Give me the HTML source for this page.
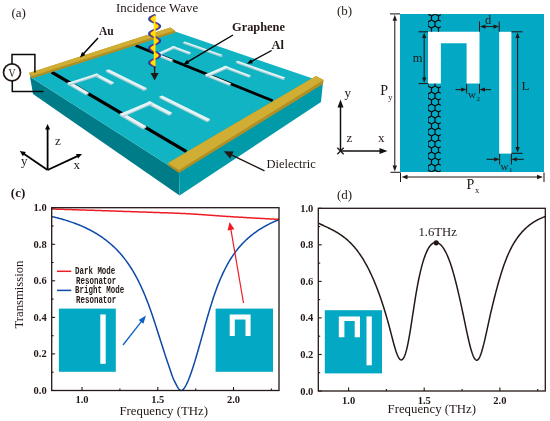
<!DOCTYPE html>
<html><head><meta charset="utf-8"><title>Figure</title>
<style>html,body{margin:0;padding:0;background:#fff}svg{display:block}</style></head>
<body>
<svg width="550" height="421" viewBox="0 0 550 421">
<polygon points="30.0,76.8 179.0,172.0 179.6,195.6 33.0,94.0" fill="#007b88" />
<polygon points="179.0,172.0 323.0,82.0 321.0,102.0 179.6,195.6" fill="#009aa8" />
<polygon points="30.0,76.8 179.0,172.0 323.0,82.0 174.5,31.3" fill="#10b4c2" />
<line x1="51.7" y1="72.2" x2="186.5" y2="151.6" stroke="#000" stroke-width="3.3" />
<line x1="135.6" y1="45.5" x2="272.8" y2="100.8" stroke="#000" stroke-width="2.8" />
<polygon points="67.0,84.2 85.7,95.3 89.2,94.0 70.5,83.0" fill="#a9cdd6" />
<polygon points="67.0,82.9 85.7,94.0 89.2,92.7 70.5,81.7" fill="#e4f3f6" />
<polygon points="93.5,75.8 110.9,85.0 114.2,83.8 96.7,74.7" fill="#a9cdd6" />
<polygon points="93.5,74.5 110.9,83.7 114.2,82.5 96.7,73.4" fill="#e4f3f6" />
<polygon points="67.0,84.2 69.3,85.6 99.1,75.9 96.7,74.7" fill="#a9cdd6" />
<polygon points="67.0,82.9 69.3,84.3 99.1,74.6 96.7,73.4" fill="#e4f3f6" />
<polygon points="105.5,71.7 143.9,90.9 147.2,89.6 108.8,70.6" fill="#a9cdd6" />
<polygon points="105.5,70.4 143.9,89.6 147.2,88.3 108.8,69.3" fill="#e4f3f6" />
<polygon points="119.5,115.4 143.0,129.4 146.7,127.6 123.1,113.8" fill="#a9cdd6" />
<polygon points="119.5,114.1 143.0,128.1 146.7,126.3 123.1,112.5" fill="#e4f3f6" />
<polygon points="146.6,103.9 169.0,115.7 172.3,114.1 149.9,102.5" fill="#a9cdd6" />
<polygon points="146.6,102.6 169.0,114.4 172.3,112.8 149.9,101.2" fill="#e4f3f6" />
<polygon points="119.5,115.4 122.6,117.2 153.1,104.1 149.9,102.5" fill="#a9cdd6" />
<polygon points="119.5,114.1 122.6,115.9 153.1,102.8 149.9,101.2" fill="#e4f3f6" />
<polygon points="158.9,98.1 207.1,122.3 210.4,120.5 162.2,96.7" fill="#a9cdd6" />
<polygon points="158.9,96.8 207.1,121.0 210.4,119.2 162.2,95.4" fill="#e4f3f6" />
<polygon points="155.2,55.6 171.2,62.1 173.7,61.2 157.7,54.7" fill="#a9cdd6" />
<polygon points="155.2,54.3 171.2,60.8 173.7,59.9 157.7,53.4" fill="#e4f3f6" />
<polygon points="171.2,48.0 189.0,54.7 191.3,53.8 173.5,47.2" fill="#a9cdd6" />
<polygon points="171.2,46.7 189.0,53.4 191.3,52.5 173.5,45.9" fill="#e4f3f6" />
<polygon points="155.2,55.6 157.7,56.6 175.9,48.1 173.5,47.2" fill="#a9cdd6" />
<polygon points="155.2,54.3 157.7,55.3 175.9,46.8 173.5,45.9" fill="#e4f3f6" />
<polygon points="182.6,43.6 220.7,57.1 223.0,56.2 184.9,42.8" fill="#a9cdd6" />
<polygon points="182.6,42.3 220.7,55.8 223.0,54.9 184.9,41.5" fill="#e4f3f6" />
<polygon points="204.8,76.0 229.0,85.8 231.4,84.7 207.3,74.9" fill="#a9cdd6" />
<polygon points="204.8,74.7 229.0,84.5 231.4,83.4 207.3,73.6" fill="#e4f3f6" />
<polygon points="223.2,68.1 248.8,77.7 251.1,76.7 225.4,67.1" fill="#a9cdd6" />
<polygon points="223.2,66.8 248.8,76.4 251.1,75.4 225.4,65.8" fill="#e4f3f6" />
<polygon points="204.8,76.0 207.9,77.3 228.5,68.3 225.4,67.1" fill="#a9cdd6" />
<polygon points="204.8,74.7 207.9,76.0 228.5,67.0 225.4,65.8" fill="#e4f3f6" />
<polygon points="235.5,63.1 283.3,80.1 285.4,78.9 237.8,62.1" fill="#a9cdd6" />
<polygon points="235.5,61.8 283.3,78.8 285.4,77.6 237.8,60.8" fill="#e4f3f6" />
<polygon points="29.0,73.0 170.3,27.6 174.8,30.6 175.2,32.8 32.0,78.5 30.5,76.5" fill="#b08f26" />
<polygon points="29.0,73.0 170.3,27.6 174.8,30.6 32.0,76.0" fill="#d0ae34" />
<polygon points="168.0,163.0 316.0,76.0 323.6,80.0 323.0,84.0 179.0,173.0 168.5,165.8" fill="#b08f26" />
<polygon points="168.0,163.0 316.0,76.0 323.6,80.0 179.0,170.0" fill="#d0ae34" />
<circle cx="12" cy="72.4" r="8.5" fill="#fff" stroke="#231815" stroke-width="1.7"/>
<text x="12.0" y="76.6" font-family="'Liberation Serif',serif" font-size="11.5" font-weight="normal" text-anchor="middle" fill="#231815" transform="translate(12 0) scale(0.85 1) translate(-12 0)">V</text>
<polyline points="12,64 12,54.6 34.9,54.6 34.9,72.5" fill="none" stroke="#0a0a0a" stroke-width="1.5"/>
<polyline points="12.3,81 12.3,91.5 43.5,91.5" fill="none" stroke="#0a0a0a" stroke-width="1.5"/>
<text x="11.5" y="16.5" font-family="'Liberation Serif',serif" font-size="13" font-weight="normal" text-anchor="start" fill="#231815" >(a)</text>
<text x="116.0" y="12.3" font-family="'Liberation Serif',serif" font-size="12.9" font-weight="normal" text-anchor="start" fill="#231815" >Incidence Wave</text>
<text x="99.0" y="34.6" font-family="'Liberation Serif',serif" font-size="11.5" font-weight="bold" text-anchor="start" fill="#231815" >Au</text>
<line x1="98.0" y1="38.0" x2="83.0" y2="54.3" stroke="#000" stroke-width="1.5" />
<polygon points="80.0,57.5 82.1,51.9 85.4,55.0" fill="#000" />
<text x="232.0" y="31.0" font-family="'Liberation Serif',serif" font-size="12.4" font-weight="bold" text-anchor="start" fill="#231815" >Graphene</text>
<line x1="233.0" y1="35.0" x2="187.3" y2="62.2" stroke="#000" stroke-width="1.4" />
<polygon points="183.5,64.5 187.1,59.8 189.4,63.6" fill="#000" />
<text x="271.5" y="48.6" font-family="'Liberation Serif',serif" font-size="12.4" font-weight="bold" text-anchor="start" fill="#231815" >Al</text>
<line x1="271.6" y1="50.5" x2="250.9" y2="61.7" stroke="#000" stroke-width="1.4" />
<polygon points="247.0,63.8 250.8,59.2 252.9,63.2" fill="#000" />
<text x="266.5" y="168.4" font-family="'Liberation Serif',serif" font-size="12.5" font-weight="normal" text-anchor="start" fill="#231815" >Dielectric</text>
<line x1="264.5" y1="170.8" x2="230.3" y2="154.4" stroke="#231815" stroke-width="1.4" />
<polygon points="223.8,151.3 233.6,151.6 230.2,158.8" fill="#231815" />
<line x1="47.6" y1="170.0" x2="47.6" y2="128.4" stroke="#000" stroke-width="1.8" />
<polygon points="47.6,124.0 50.1,129.5 45.1,129.5" fill="#000" />
<line x1="47.6" y1="170.0" x2="78.0" y2="155.9" stroke="#000" stroke-width="1.8" />
<polygon points="82.0,154.0 78.1,158.6 76.0,154.1" fill="#000" />
<line x1="47.6" y1="170.0" x2="23.4" y2="153.5" stroke="#000" stroke-width="1.8" />
<polygon points="19.8,151.0 25.8,152.0 22.9,156.2" fill="#000" />
<text x="55.0" y="145.0" font-family="'Liberation Serif',serif" font-size="13" font-weight="normal" text-anchor="start" fill="#231815" >z</text>
<text x="73.5" y="169.0" font-family="'Liberation Serif',serif" font-size="13" font-weight="normal" text-anchor="start" fill="#231815" >x</text>
<text x="21.0" y="165.0" font-family="'Liberation Serif',serif" font-size="13" font-weight="normal" text-anchor="start" fill="#231815" >y</text>
<path d="M154.60,15.30 L153.87,15.62 L153.15,15.94 L152.46,16.26 L151.82,16.59 L151.22,16.91 L150.69,17.23 L150.23,17.55 L149.86,17.87 L149.58,18.19 L149.39,18.51 L149.31,18.84 L149.32,19.16 L149.44,19.48 L149.65,19.80 L149.96,20.12 L150.36,20.44 L150.83,20.76 L151.38,21.08 L152.00,21.41 L152.66,21.73 L153.36,22.05 L154.08,22.37 L154.81,22.69 L155.54,23.01 L156.25,23.33 L156.93,23.66 L157.56,23.98 L158.14,24.30 L158.65,24.62 L159.08,24.94 L159.43,25.26 L159.68,25.58 L159.84,25.91 L159.90,26.23 L159.86,26.55 L159.71,26.87 L159.47,27.19 L159.14,27.51 L158.72,27.83 L158.22,28.16 L157.65,28.48 L157.02,28.80 L156.35,29.12 L155.64,29.44 L154.91,29.76 L154.18,30.08 L153.46,30.41 L152.75,30.73 L152.09,31.05 L151.47,31.37 L150.91,31.69 L150.42,32.01 L150.01,32.33 L149.69,32.65 L149.46,32.98 L149.33,33.30 L149.30,33.62 L149.37,33.94 L149.55,34.26 L149.82,34.58 L150.18,34.90 L150.62,35.23 L151.14,35.55 L151.73,35.87 L152.37,36.19 L153.05,36.51 L153.77,36.83 L154.50,37.15 L155.23,37.48 L155.95,37.80 L156.64,38.12 L157.30,38.44 L157.90,38.76 L158.44,39.08 L158.91,39.40 L159.29,39.73 L159.59,40.05 L159.79,40.37 L159.89,40.69 L159.89,41.01 L159.79,41.33 L159.59,41.65 L159.29,41.97 L158.91,42.30 L158.44,42.62 L157.90,42.94 L157.30,43.26 L156.64,43.58 L155.95,43.90 L155.23,44.22 L154.50,44.55 L153.77,44.87 L153.05,45.19 L152.37,45.51 L151.73,45.83 L151.14,46.15 L150.62,46.47 L150.18,46.80 L149.82,47.12 L149.55,47.44 L149.37,47.76 L149.30,48.08 L149.33,48.40 L149.46,48.72 L149.69,49.05 L150.01,49.37 L150.42,49.69 L150.91,50.01 L151.47,50.33 L152.09,50.65 L152.75,50.97 L153.46,51.29 L154.18,51.62 L154.91,51.94 L155.64,52.26 L156.35,52.58 L157.02,52.90 L157.65,53.22 L158.22,53.54 L158.72,53.87 L159.14,54.19 L159.47,54.51 L159.71,54.83 L159.86,55.15 L159.90,55.47 L159.84,55.79 L159.68,56.12 L159.43,56.44 L159.08,56.76 L158.65,57.08 L158.14,57.40 L157.56,57.72 L156.93,58.04 L156.25,58.37 L155.54,58.69 L154.81,59.01 L154.08,59.33 L153.36,59.65 L152.66,59.97 L152.00,60.29 L151.38,60.62 L150.83,60.94 L150.36,61.26 L149.96,61.58 L149.65,61.90 L149.44,62.22 L149.32,62.54 L149.31,62.86 L149.39,63.19 L149.58,63.51 L149.86,63.83 L150.23,64.15 L150.69,64.47 L151.22,64.79 L151.82,65.11 L152.46,65.44 L153.15,65.76 L153.87,66.08 L154.60,66.40" fill="none" stroke="#1b3fb5" stroke-width="2.4" stroke-linecap="round"/>
<path d="M154.60,15.30 L153.99,15.62 L153.40,15.94 L152.83,16.26 L152.29,16.59 L151.79,16.91 L151.35,17.23 L150.98,17.55 L150.67,17.87 L150.43,18.19 L150.28,18.51 L150.21,18.84 L150.22,19.16 L150.31,19.48 L150.49,19.80 L150.75,20.12 L151.08,20.44 L151.47,20.76 L151.93,21.08 L152.44,21.41 L152.99,21.73 L153.57,22.05 L154.17,22.37 L154.77,22.69 L155.38,23.01 L155.97,23.33 L156.53,23.66 L157.06,23.98 L157.54,24.30 L157.96,24.62 L158.32,24.94 L158.61,25.26 L158.82,25.58 L158.95,25.91 L159.00,26.23 L158.96,26.55 L158.84,26.87 L158.64,27.19 L158.37,27.51 L158.02,27.83 L157.60,28.16 L157.13,28.48 L156.61,28.80 L156.05,29.12 L155.46,29.44 L154.86,29.76 L154.25,30.08 L153.65,30.41 L153.07,30.73 L152.51,31.05 L152.00,31.37 L151.54,31.69 L151.13,32.01 L150.79,32.33 L150.52,32.65 L150.33,32.98 L150.23,33.30 L150.20,33.62 L150.26,33.94 L150.40,34.26 L150.63,34.58 L150.93,34.90 L151.30,35.23 L151.73,35.55 L152.21,35.87 L152.75,36.19 L153.31,36.51 L153.91,36.83 L154.51,37.15 L155.12,37.48 L155.72,37.80 L156.29,38.12 L156.84,38.44 L157.34,38.76 L157.79,39.08 L158.17,39.40 L158.49,39.73 L158.74,40.05 L158.91,40.37 L158.99,40.69 L158.99,41.01 L158.91,41.33 L158.74,41.65 L158.49,41.97 L158.17,42.30 L157.79,42.62 L157.34,42.94 L156.84,43.26 L156.29,43.58 L155.72,43.90 L155.12,44.22 L154.51,44.55 L153.91,44.87 L153.31,45.19 L152.75,45.51 L152.21,45.83 L151.73,46.15 L151.30,46.47 L150.93,46.80 L150.63,47.12 L150.40,47.44 L150.26,47.76 L150.20,48.08 L150.23,48.40 L150.33,48.72 L150.52,49.05 L150.79,49.37 L151.13,49.69 L151.54,50.01 L152.00,50.33 L152.51,50.65 L153.07,50.97 L153.65,51.29 L154.25,51.62 L154.86,51.94 L155.46,52.26 L156.05,52.58 L156.61,52.90 L157.13,53.22 L157.60,53.54 L158.02,53.87 L158.37,54.19 L158.64,54.51 L158.84,54.83 L158.96,55.15 L159.00,55.47 L158.95,55.79 L158.82,56.12 L158.61,56.44 L158.32,56.76 L157.96,57.08 L157.54,57.40 L157.06,57.72 L156.53,58.04 L155.97,58.37 L155.38,58.69 L154.77,59.01 L154.17,59.33 L153.57,59.65 L152.99,59.97 L152.44,60.29 L151.93,60.62 L151.47,60.94 L151.08,61.26 L150.75,61.58 L150.49,61.90 L150.31,62.22 L150.22,62.54 L150.21,62.86 L150.28,63.19 L150.43,63.51 L150.67,63.83 L150.98,64.15 L151.35,64.47 L151.79,64.79 L152.29,65.11 L152.83,65.44 L153.40,65.76 L153.99,66.08 L154.60,66.40 L154.6,66.4 L154.6,15.3 Z" fill="#ffe600" stroke="#e8281e" stroke-width="0.9"/>
<line x1="154.6" y1="15.8" x2="154.6" y2="66.4" stroke="#ffe600" stroke-width="1.8" />
<line x1="154.6" y1="66.4" x2="154.6" y2="74.5" stroke="#231815" stroke-width="1.4" />
<polygon points="154.6,80.5 150.6,73.0 158.6,73.0" fill="#231815" />
<rect x="400" y="14" width="144" height="158" fill="#03a8c4"/>
<clipPath id="gc"><rect x="428" y="14" width="12.8" height="158"/></clipPath>
<path d="M428.0,-10.0 L431.5,-8.0 L431.5,-4.0 L428.0,-2.0 L424.5,-4.0 L424.5,-8.0ZM435.0,-10.0 L438.5,-8.0 L438.5,-4.0 L435.0,-2.0 L431.5,-4.0 L431.5,-8.0ZM442.0,-10.0 L445.5,-8.0 L445.5,-4.0 L442.0,-2.0 L438.5,-4.0 L438.5,-8.0ZM449.0,-10.0 L452.5,-8.0 L452.5,-4.0 L449.0,-2.0 L445.5,-4.0 L445.5,-8.0ZM424.5,-4.0 L428.0,-2.0 L428.0,2.0 L424.5,4.0 L421.0,2.0 L421.0,-2.0ZM431.5,-4.0 L435.0,-2.0 L435.0,2.0 L431.5,4.0 L428.0,2.0 L428.0,-2.0ZM438.5,-4.0 L442.0,-2.0 L442.0,2.0 L438.5,4.0 L435.0,2.0 L435.0,-2.0ZM445.5,-4.0 L449.0,-2.0 L449.0,2.0 L445.5,4.0 L442.0,2.0 L442.0,-2.0ZM428.0,2.0 L431.5,4.0 L431.5,8.0 L428.0,10.0 L424.5,8.0 L424.5,4.0ZM435.0,2.0 L438.5,4.0 L438.5,8.0 L435.0,10.0 L431.5,8.0 L431.5,4.0ZM442.0,2.0 L445.5,4.0 L445.5,8.0 L442.0,10.0 L438.5,8.0 L438.5,4.0ZM449.0,2.0 L452.5,4.0 L452.5,8.0 L449.0,10.0 L445.5,8.0 L445.5,4.0ZM424.5,8.0 L428.0,10.0 L428.0,14.0 L424.5,16.0 L421.0,14.0 L421.0,10.0ZM431.5,8.0 L435.0,10.0 L435.0,14.0 L431.5,16.0 L428.0,14.0 L428.0,10.0ZM438.5,8.0 L442.0,10.0 L442.0,14.0 L438.5,16.0 L435.0,14.0 L435.0,10.0ZM445.5,8.0 L449.0,10.0 L449.0,14.0 L445.5,16.0 L442.0,14.0 L442.0,10.0ZM428.0,14.0 L431.5,16.0 L431.5,20.0 L428.0,22.0 L424.5,20.0 L424.5,16.0ZM435.0,14.0 L438.5,16.0 L438.5,20.0 L435.0,22.0 L431.5,20.0 L431.5,16.0ZM442.0,14.0 L445.5,16.0 L445.5,20.0 L442.0,22.0 L438.5,20.0 L438.5,16.0ZM449.0,14.0 L452.5,16.0 L452.5,20.0 L449.0,22.0 L445.5,20.0 L445.5,16.0ZM424.5,20.0 L428.0,22.0 L428.0,26.0 L424.5,28.0 L421.0,26.0 L421.0,22.0ZM431.5,20.0 L435.0,22.0 L435.0,26.0 L431.5,28.0 L428.0,26.0 L428.0,22.0ZM438.5,20.0 L442.0,22.0 L442.0,26.0 L438.5,28.0 L435.0,26.0 L435.0,22.0ZM445.5,20.0 L449.0,22.0 L449.0,26.0 L445.5,28.0 L442.0,26.0 L442.0,22.0ZM428.0,26.0 L431.5,28.0 L431.5,32.0 L428.0,34.0 L424.5,32.0 L424.5,28.0ZM435.0,26.0 L438.5,28.0 L438.5,32.0 L435.0,34.0 L431.5,32.0 L431.5,28.0ZM442.0,26.0 L445.5,28.0 L445.5,32.0 L442.0,34.0 L438.5,32.0 L438.5,28.0ZM449.0,26.0 L452.5,28.0 L452.5,32.0 L449.0,34.0 L445.5,32.0 L445.5,28.0ZM424.5,32.0 L428.0,34.0 L428.0,38.0 L424.5,40.0 L421.0,38.0 L421.0,34.0ZM431.5,32.0 L435.0,34.0 L435.0,38.0 L431.5,40.0 L428.0,38.0 L428.0,34.0ZM438.5,32.0 L442.0,34.0 L442.0,38.0 L438.5,40.0 L435.0,38.0 L435.0,34.0ZM445.5,32.0 L449.0,34.0 L449.0,38.0 L445.5,40.0 L442.0,38.0 L442.0,34.0ZM428.0,38.0 L431.5,40.0 L431.5,44.0 L428.0,46.0 L424.5,44.0 L424.5,40.0ZM435.0,38.0 L438.5,40.0 L438.5,44.0 L435.0,46.0 L431.5,44.0 L431.5,40.0ZM442.0,38.0 L445.5,40.0 L445.5,44.0 L442.0,46.0 L438.5,44.0 L438.5,40.0ZM449.0,38.0 L452.5,40.0 L452.5,44.0 L449.0,46.0 L445.5,44.0 L445.5,40.0ZM424.5,44.0 L428.0,46.0 L428.0,50.0 L424.5,52.0 L421.0,50.0 L421.0,46.0ZM431.5,44.0 L435.0,46.0 L435.0,50.0 L431.5,52.0 L428.0,50.0 L428.0,46.0ZM438.5,44.0 L442.0,46.0 L442.0,50.0 L438.5,52.0 L435.0,50.0 L435.0,46.0ZM445.5,44.0 L449.0,46.0 L449.0,50.0 L445.5,52.0 L442.0,50.0 L442.0,46.0ZM428.0,50.0 L431.5,52.0 L431.5,56.0 L428.0,58.0 L424.5,56.0 L424.5,52.0ZM435.0,50.0 L438.5,52.0 L438.5,56.0 L435.0,58.0 L431.5,56.0 L431.5,52.0ZM442.0,50.0 L445.5,52.0 L445.5,56.0 L442.0,58.0 L438.5,56.0 L438.5,52.0ZM449.0,50.0 L452.5,52.0 L452.5,56.0 L449.0,58.0 L445.5,56.0 L445.5,52.0ZM424.5,56.0 L428.0,58.0 L428.0,62.0 L424.5,64.0 L421.0,62.0 L421.0,58.0ZM431.5,56.0 L435.0,58.0 L435.0,62.0 L431.5,64.0 L428.0,62.0 L428.0,58.0ZM438.5,56.0 L442.0,58.0 L442.0,62.0 L438.5,64.0 L435.0,62.0 L435.0,58.0ZM445.5,56.0 L449.0,58.0 L449.0,62.0 L445.5,64.0 L442.0,62.0 L442.0,58.0ZM428.0,62.0 L431.5,64.0 L431.5,68.0 L428.0,70.0 L424.5,68.0 L424.5,64.0ZM435.0,62.0 L438.5,64.0 L438.5,68.0 L435.0,70.0 L431.5,68.0 L431.5,64.0ZM442.0,62.0 L445.5,64.0 L445.5,68.0 L442.0,70.0 L438.5,68.0 L438.5,64.0ZM449.0,62.0 L452.5,64.0 L452.5,68.0 L449.0,70.0 L445.5,68.0 L445.5,64.0ZM424.5,68.0 L428.0,70.0 L428.0,74.0 L424.5,76.0 L421.0,74.0 L421.0,70.0ZM431.5,68.0 L435.0,70.0 L435.0,74.0 L431.5,76.0 L428.0,74.0 L428.0,70.0ZM438.5,68.0 L442.0,70.0 L442.0,74.0 L438.5,76.0 L435.0,74.0 L435.0,70.0ZM445.5,68.0 L449.0,70.0 L449.0,74.0 L445.5,76.0 L442.0,74.0 L442.0,70.0ZM428.0,74.0 L431.5,76.0 L431.5,80.0 L428.0,82.0 L424.5,80.0 L424.5,76.0ZM435.0,74.0 L438.5,76.0 L438.5,80.0 L435.0,82.0 L431.5,80.0 L431.5,76.0ZM442.0,74.0 L445.5,76.0 L445.5,80.0 L442.0,82.0 L438.5,80.0 L438.5,76.0ZM449.0,74.0 L452.5,76.0 L452.5,80.0 L449.0,82.0 L445.5,80.0 L445.5,76.0ZM424.5,80.0 L428.0,82.0 L428.0,86.0 L424.5,88.0 L421.0,86.0 L421.0,82.0ZM431.5,80.0 L435.0,82.0 L435.0,86.0 L431.5,88.0 L428.0,86.0 L428.0,82.0ZM438.5,80.0 L442.0,82.0 L442.0,86.0 L438.5,88.0 L435.0,86.0 L435.0,82.0ZM445.5,80.0 L449.0,82.0 L449.0,86.0 L445.5,88.0 L442.0,86.0 L442.0,82.0ZM428.0,86.0 L431.5,88.0 L431.5,92.0 L428.0,94.0 L424.5,92.0 L424.5,88.0ZM435.0,86.0 L438.5,88.0 L438.5,92.0 L435.0,94.0 L431.5,92.0 L431.5,88.0ZM442.0,86.0 L445.5,88.0 L445.5,92.0 L442.0,94.0 L438.5,92.0 L438.5,88.0ZM449.0,86.0 L452.5,88.0 L452.5,92.0 L449.0,94.0 L445.5,92.0 L445.5,88.0ZM424.5,92.0 L428.0,94.0 L428.0,98.0 L424.5,100.0 L421.0,98.0 L421.0,94.0ZM431.5,92.0 L435.0,94.0 L435.0,98.0 L431.5,100.0 L428.0,98.0 L428.0,94.0ZM438.5,92.0 L442.0,94.0 L442.0,98.0 L438.5,100.0 L435.0,98.0 L435.0,94.0ZM445.5,92.0 L449.0,94.0 L449.0,98.0 L445.5,100.0 L442.0,98.0 L442.0,94.0ZM428.0,98.0 L431.5,100.0 L431.5,104.0 L428.0,106.0 L424.5,104.0 L424.5,100.0ZM435.0,98.0 L438.5,100.0 L438.5,104.0 L435.0,106.0 L431.5,104.0 L431.5,100.0ZM442.0,98.0 L445.5,100.0 L445.5,104.0 L442.0,106.0 L438.5,104.0 L438.5,100.0ZM449.0,98.0 L452.5,100.0 L452.5,104.0 L449.0,106.0 L445.5,104.0 L445.5,100.0ZM424.5,104.0 L428.0,106.0 L428.0,110.0 L424.5,112.0 L421.0,110.0 L421.0,106.0ZM431.5,104.0 L435.0,106.0 L435.0,110.0 L431.5,112.0 L428.0,110.0 L428.0,106.0ZM438.5,104.0 L442.0,106.0 L442.0,110.0 L438.5,112.0 L435.0,110.0 L435.0,106.0ZM445.5,104.0 L449.0,106.0 L449.0,110.0 L445.5,112.0 L442.0,110.0 L442.0,106.0ZM428.0,110.0 L431.5,112.0 L431.5,116.0 L428.0,118.0 L424.5,116.0 L424.5,112.0ZM435.0,110.0 L438.5,112.0 L438.5,116.0 L435.0,118.0 L431.5,116.0 L431.5,112.0ZM442.0,110.0 L445.5,112.0 L445.5,116.0 L442.0,118.0 L438.5,116.0 L438.5,112.0ZM449.0,110.0 L452.5,112.0 L452.5,116.0 L449.0,118.0 L445.5,116.0 L445.5,112.0ZM424.5,116.0 L428.0,118.0 L428.0,122.0 L424.5,124.0 L421.0,122.0 L421.0,118.0ZM431.5,116.0 L435.0,118.0 L435.0,122.0 L431.5,124.0 L428.0,122.0 L428.0,118.0ZM438.5,116.0 L442.0,118.0 L442.0,122.0 L438.5,124.0 L435.0,122.0 L435.0,118.0ZM445.5,116.0 L449.0,118.0 L449.0,122.0 L445.5,124.0 L442.0,122.0 L442.0,118.0ZM428.0,122.0 L431.5,124.0 L431.5,128.0 L428.0,130.0 L424.5,128.0 L424.5,124.0ZM435.0,122.0 L438.5,124.0 L438.5,128.0 L435.0,130.0 L431.5,128.0 L431.5,124.0ZM442.0,122.0 L445.5,124.0 L445.5,128.0 L442.0,130.0 L438.5,128.0 L438.5,124.0ZM449.0,122.0 L452.5,124.0 L452.5,128.0 L449.0,130.0 L445.5,128.0 L445.5,124.0ZM424.5,128.0 L428.0,130.0 L428.0,134.0 L424.5,136.0 L421.0,134.0 L421.0,130.0ZM431.5,128.0 L435.0,130.0 L435.0,134.0 L431.5,136.0 L428.0,134.0 L428.0,130.0ZM438.5,128.0 L442.0,130.0 L442.0,134.0 L438.5,136.0 L435.0,134.0 L435.0,130.0ZM445.5,128.0 L449.0,130.0 L449.0,134.0 L445.5,136.0 L442.0,134.0 L442.0,130.0ZM428.0,134.0 L431.5,136.0 L431.5,140.0 L428.0,142.0 L424.5,140.0 L424.5,136.0ZM435.0,134.0 L438.5,136.0 L438.5,140.0 L435.0,142.0 L431.5,140.0 L431.5,136.0ZM442.0,134.0 L445.5,136.0 L445.5,140.0 L442.0,142.0 L438.5,140.0 L438.5,136.0ZM449.0,134.0 L452.5,136.0 L452.5,140.0 L449.0,142.0 L445.5,140.0 L445.5,136.0ZM424.5,140.0 L428.0,142.0 L428.0,146.0 L424.5,148.0 L421.0,146.0 L421.0,142.0ZM431.5,140.0 L435.0,142.0 L435.0,146.0 L431.5,148.0 L428.0,146.0 L428.0,142.0ZM438.5,140.0 L442.0,142.0 L442.0,146.0 L438.5,148.0 L435.0,146.0 L435.0,142.0ZM445.5,140.0 L449.0,142.0 L449.0,146.0 L445.5,148.0 L442.0,146.0 L442.0,142.0ZM428.0,146.0 L431.5,148.0 L431.5,152.0 L428.0,154.0 L424.5,152.0 L424.5,148.0ZM435.0,146.0 L438.5,148.0 L438.5,152.0 L435.0,154.0 L431.5,152.0 L431.5,148.0ZM442.0,146.0 L445.5,148.0 L445.5,152.0 L442.0,154.0 L438.5,152.0 L438.5,148.0ZM449.0,146.0 L452.5,148.0 L452.5,152.0 L449.0,154.0 L445.5,152.0 L445.5,148.0ZM424.5,152.0 L428.0,154.0 L428.0,158.0 L424.5,160.0 L421.0,158.0 L421.0,154.0ZM431.5,152.0 L435.0,154.0 L435.0,158.0 L431.5,160.0 L428.0,158.0 L428.0,154.0ZM438.5,152.0 L442.0,154.0 L442.0,158.0 L438.5,160.0 L435.0,158.0 L435.0,154.0ZM445.5,152.0 L449.0,154.0 L449.0,158.0 L445.5,160.0 L442.0,158.0 L442.0,154.0ZM428.0,158.0 L431.5,160.0 L431.5,164.0 L428.0,166.0 L424.5,164.0 L424.5,160.0ZM435.0,158.0 L438.5,160.0 L438.5,164.0 L435.0,166.0 L431.5,164.0 L431.5,160.0ZM442.0,158.0 L445.5,160.0 L445.5,164.0 L442.0,166.0 L438.5,164.0 L438.5,160.0ZM449.0,158.0 L452.5,160.0 L452.5,164.0 L449.0,166.0 L445.5,164.0 L445.5,160.0ZM424.5,164.0 L428.0,166.0 L428.0,170.0 L424.5,172.0 L421.0,170.0 L421.0,166.0ZM431.5,164.0 L435.0,166.0 L435.0,170.0 L431.5,172.0 L428.0,170.0 L428.0,166.0ZM438.5,164.0 L442.0,166.0 L442.0,170.0 L438.5,172.0 L435.0,170.0 L435.0,166.0ZM445.5,164.0 L449.0,166.0 L449.0,170.0 L445.5,172.0 L442.0,170.0 L442.0,166.0ZM428.0,170.0 L431.5,172.0 L431.5,176.0 L428.0,178.0 L424.5,176.0 L424.5,172.0ZM435.0,170.0 L438.5,172.0 L438.5,176.0 L435.0,178.0 L431.5,176.0 L431.5,172.0ZM442.0,170.0 L445.5,172.0 L445.5,176.0 L442.0,178.0 L438.5,176.0 L438.5,172.0ZM449.0,170.0 L452.5,172.0 L452.5,176.0 L449.0,178.0 L445.5,176.0 L445.5,172.0ZM424.5,176.0 L428.0,178.0 L428.0,182.0 L424.5,184.0 L421.0,182.0 L421.0,178.0ZM431.5,176.0 L435.0,178.0 L435.0,182.0 L431.5,184.0 L428.0,182.0 L428.0,178.0ZM438.5,176.0 L442.0,178.0 L442.0,182.0 L438.5,184.0 L435.0,182.0 L435.0,178.0ZM445.5,176.0 L449.0,178.0 L449.0,182.0 L445.5,184.0 L442.0,182.0 L442.0,178.0ZM428.0,182.0 L431.5,184.0 L431.5,188.0 L428.0,190.0 L424.5,188.0 L424.5,184.0ZM435.0,182.0 L438.5,184.0 L438.5,188.0 L435.0,190.0 L431.5,188.0 L431.5,184.0ZM442.0,182.0 L445.5,184.0 L445.5,188.0 L442.0,190.0 L438.5,188.0 L438.5,184.0ZM449.0,182.0 L452.5,184.0 L452.5,188.0 L449.0,190.0 L445.5,188.0 L445.5,184.0ZM424.5,188.0 L428.0,190.0 L428.0,194.0 L424.5,196.0 L421.0,194.0 L421.0,190.0ZM431.5,188.0 L435.0,190.0 L435.0,194.0 L431.5,196.0 L428.0,194.0 L428.0,190.0ZM438.5,188.0 L442.0,190.0 L442.0,194.0 L438.5,196.0 L435.0,194.0 L435.0,190.0ZM445.5,188.0 L449.0,190.0 L449.0,194.0 L445.5,196.0 L442.0,194.0 L442.0,190.0Z" fill="none" stroke="#0a0a0a" stroke-width="1.15" clip-path="url(#gc)"/>
<path d="M428,31.8 H479.5 V83.6 H466.6 V43.3 H440.9 V83.6 H428 Z" fill="#fff"/>
<rect x="499.2" y="31.8" width="12.2" height="121.8" fill="#fff"/>
<line x1="390.0" y1="13.9" x2="400.0" y2="13.9" stroke="#231815" stroke-width="1.05" />
<line x1="390.5" y1="172.3" x2="400.0" y2="172.3" stroke="#231815" stroke-width="1.05" />
<line x1="394.8" y1="19.6" x2="394.8" y2="166.7" stroke="#231815" stroke-width="1.05" />
<polygon points="394.8,171.5 392.6,165.5 397.0,165.5" fill="#231815" />
<polygon points="394.8,14.8 392.6,20.8 397.0,20.8" fill="#231815" />
<text x="380.3" y="95.3" font-family="'Liberation Serif',serif" font-size="14" font-weight="normal" text-anchor="start" fill="#231815" >P</text>
<text x="388.3" y="99.8" font-family="'Liberation Serif',serif" font-size="8.5" font-weight="normal" text-anchor="start" fill="#231815" >y</text>
<line x1="400.5" y1="172.5" x2="400.5" y2="182.0" stroke="#231815" stroke-width="1.05" />
<line x1="544.0" y1="172.5" x2="544.0" y2="182.0" stroke="#231815" stroke-width="1.05" />
<line x1="406.3" y1="177.0" x2="538.2" y2="177.0" stroke="#231815" stroke-width="1.05" />
<polygon points="543.0,177.0 537.0,179.3 537.0,174.7" fill="#231815" />
<polygon points="401.5,177.0 407.5,179.3 407.5,174.7" fill="#231815" />
<text x="466.5" y="188.5" font-family="'Liberation Serif',serif" font-size="14" font-weight="normal" text-anchor="start" fill="#231815" >P</text>
<text x="475.0" y="192.5" font-family="'Liberation Serif',serif" font-size="8.5" font-weight="normal" text-anchor="start" fill="#231815" >x</text>
<line x1="418.6" y1="31.8" x2="428.0" y2="31.8" stroke="#231815" stroke-width="1.05" />
<line x1="418.6" y1="83.6" x2="428.0" y2="83.6" stroke="#231815" stroke-width="1.05" />
<line x1="424.2" y1="36.9" x2="424.2" y2="78.6" stroke="#231815" stroke-width="1.05" />
<polygon points="424.2,83.0 422.1,77.5 426.3,77.5" fill="#231815" />
<polygon points="424.2,32.5 422.1,38.0 426.3,38.0" fill="#231815" />
<text x="417.5" y="62.0" font-family="'Liberation Serif',serif" font-size="12.5" font-weight="normal" text-anchor="middle" fill="#231815" >m</text>
<line x1="479.5" y1="21.5" x2="479.5" y2="31.5" stroke="#231815" stroke-width="1.05" />
<line x1="499.2" y1="21.5" x2="499.2" y2="31.5" stroke="#231815" stroke-width="1.05" />
<line x1="484.4" y1="26.6" x2="494.6" y2="26.6" stroke="#231815" stroke-width="1.05" />
<polygon points="499.0,26.6 493.5,28.7 493.5,24.5" fill="#231815" />
<polygon points="480.0,26.6 485.5,28.7 485.5,24.5" fill="#231815" />
<text x="488.0" y="23.5" font-family="'Liberation Serif',serif" font-size="12.5" font-weight="normal" text-anchor="middle" fill="#231815" >d</text>
<line x1="466.6" y1="84.0" x2="466.6" y2="93.5" stroke="#231815" stroke-width="1.05" />
<line x1="479.5" y1="84.0" x2="479.5" y2="93.5" stroke="#231815" stroke-width="1.05" />
<line x1="455.5" y1="89.6" x2="462.2" y2="89.6" stroke="#231815" stroke-width="1.05" />
<polygon points="466.6,89.6 461.1,91.7 461.1,87.5" fill="#231815" />
<line x1="491.0" y1="89.6" x2="483.9" y2="89.6" stroke="#231815" stroke-width="1.05" />
<polygon points="479.5,89.6 485.0,87.5 485.0,91.7" fill="#231815" />
<text x="472.0" y="97.5" font-family="'Liberation Serif',serif" font-size="11" font-weight="normal" text-anchor="middle" fill="#231815" >w</text>
<text x="476.5" y="100.5" font-family="'Liberation Serif',serif" font-size="7" font-weight="normal" text-anchor="start" fill="#231815" >2</text>
<line x1="511.4" y1="31.8" x2="522.5" y2="31.8" stroke="#231815" stroke-width="1.05" />
<line x1="511.4" y1="153.3" x2="522.5" y2="153.3" stroke="#231815" stroke-width="1.05" />
<line x1="517.6" y1="36.9" x2="517.6" y2="148.2" stroke="#231815" stroke-width="1.05" />
<polygon points="517.6,152.6 515.5,147.1 519.7,147.1" fill="#231815" />
<polygon points="517.6,32.5 515.5,38.0 519.7,38.0" fill="#231815" />
<text x="521.5" y="89.5" font-family="'Liberation Serif',serif" font-size="13" font-weight="normal" text-anchor="start" fill="#231815" >L</text>
<line x1="499.6" y1="154.0" x2="499.6" y2="164.5" stroke="#231815" stroke-width="1.05" />
<line x1="511.4" y1="154.0" x2="511.4" y2="164.5" stroke="#231815" stroke-width="1.05" />
<line x1="486.5" y1="159.3" x2="495.2" y2="159.3" stroke="#231815" stroke-width="1.05" />
<polygon points="499.6,159.3 494.1,161.4 494.1,157.2" fill="#231815" />
<line x1="523.7" y1="159.3" x2="515.8" y2="159.3" stroke="#231815" stroke-width="1.05" />
<polygon points="511.4,159.3 516.9,157.2 516.9,161.4" fill="#231815" />
<text x="504.5" y="169.5" font-family="'Liberation Serif',serif" font-size="11" font-weight="normal" text-anchor="middle" fill="#231815" >w</text>
<text x="509.0" y="172.0" font-family="'Liberation Serif',serif" font-size="7" font-weight="normal" text-anchor="start" fill="#231815" >1</text>
<line x1="340.5" y1="151.0" x2="340.5" y2="105.9" stroke="#111" stroke-width="1.5" />
<polygon points="340.5,99.5 343.5,107.5 337.5,107.5" fill="#111" />
<line x1="340.5" y1="151.0" x2="381.1" y2="151.0" stroke="#111" stroke-width="1.5" />
<polygon points="387.5,151.0 379.5,154.0 379.5,148.0" fill="#111" />
<line x1="337.3" y1="147.8" x2="343.7" y2="154.2" stroke="#231815" stroke-width="1.3" />
<line x1="337.3" y1="154.2" x2="343.7" y2="147.8" stroke="#231815" stroke-width="1.3" />
<text x="344.5" y="97.0" font-family="'Liberation Serif',serif" font-size="13" font-weight="normal" text-anchor="start" fill="#231815" >y</text>
<text x="346.5" y="142.0" font-family="'Liberation Serif',serif" font-size="13" font-weight="normal" text-anchor="start" fill="#231815" >z</text>
<text x="378.0" y="141.5" font-family="'Liberation Serif',serif" font-size="13" font-weight="normal" text-anchor="start" fill="#231815" >x</text>
<text x="337.0" y="15.0" font-family="'Liberation Serif',serif" font-size="13" font-weight="normal" text-anchor="start" fill="#231815" >(b)</text>
<rect x="58.9" y="308.6" width="56.9" height="63.2" fill="#03a8c4"/>
<rect x="100.3" y="314.4" width="5.4" height="49.4" fill="#fff"/>
<rect x="215.6" y="308.6" width="57.4" height="63.2" fill="#03a8c4"/>
<path d="M229.7,314.4 H250.6 V335.9 H245.5 V319.5 H234.8 V335.9 H229.7 Z" fill="#fff"/>
<clipPath id="cc"><rect x="51.7" y="207.7" width="227.3" height="183.8"/></clipPath>
<path d="M51.70,216.54 L52.46,216.71 L53.22,216.89 L53.98,217.07 L54.74,217.25 L55.50,217.43 L56.26,217.62 L57.02,217.81 L57.78,218.01 L58.54,218.20 L59.30,218.40 L60.06,218.61 L60.82,218.81 L61.58,219.03 L62.34,219.24 L63.10,219.46 L63.86,219.68 L64.62,219.90 L65.38,220.13 L66.14,220.37 L66.90,220.60 L67.66,220.84 L68.42,221.09 L69.18,221.34 L69.94,221.59 L70.71,221.85 L71.47,222.11 L72.23,222.37 L72.99,222.64 L73.75,222.92 L74.51,223.20 L75.27,223.48 L76.03,223.77 L76.79,224.06 L77.55,224.36 L78.31,224.66 L79.07,224.97 L79.83,225.29 L80.59,225.60 L81.35,225.93 L82.11,226.26 L82.87,226.59 L83.63,226.93 L84.39,227.28 L85.15,227.63 L85.91,227.99 L86.67,228.36 L87.43,228.73 L88.19,229.10 L88.95,229.49 L89.71,229.88 L90.47,230.28 L91.23,230.68 L91.99,231.09 L92.75,231.51 L93.51,231.94 L94.27,232.37 L95.03,232.81 L95.79,233.26 L96.55,233.72 L97.31,234.18 L98.07,234.66 L98.83,235.14 L99.59,235.63 L100.35,236.14 L101.11,236.65 L101.87,237.17 L102.63,237.70 L103.39,238.24 L104.15,238.79 L104.91,239.35 L105.67,239.92 L106.43,240.51 L107.19,241.10 L107.95,241.71 L108.72,242.33 L109.48,242.96 L110.24,243.61 L111.00,244.27 L111.76,244.94 L112.52,245.63 L113.28,246.33 L114.04,247.04 L114.80,247.77 L115.56,248.52 L116.32,249.28 L117.08,250.06 L117.84,250.86 L118.60,251.67 L119.36,252.50 L120.12,253.35 L120.88,254.22 L121.64,255.11 L122.40,256.02 L123.16,256.95 L123.92,257.90 L124.68,258.87 L125.44,259.87 L126.20,260.89 L126.96,261.93 L127.72,263.00 L128.48,264.09 L129.24,265.21 L130.00,266.36 L130.76,267.53 L131.52,268.73 L132.28,269.96 L133.04,271.22 L133.80,272.51 L134.56,273.83 L135.32,275.18 L136.08,276.57 L136.84,277.99 L137.60,279.45 L138.36,280.93 L139.12,282.46 L139.88,284.02 L140.64,285.62 L141.40,287.26 L142.16,288.94 L142.92,290.65 L143.68,292.41 L144.44,294.21 L145.20,296.05 L145.96,297.93 L146.73,299.85 L147.49,301.82 L148.25,303.82 L149.01,305.87 L149.77,307.96 L150.53,310.10 L151.29,312.27 L152.05,314.48 L152.81,316.73 L153.57,319.00 L154.33,321.30 L155.09,323.62 L155.85,325.96 L156.61,328.31 L157.37,330.68 L158.13,333.05 L158.89,335.44 L159.65,337.82 L160.41,340.20 L161.17,342.59 L161.93,344.96 L162.69,347.33 L163.45,349.69 L164.21,352.03 L164.97,354.36 L165.73,356.67 L166.49,358.97 L167.25,361.24 L168.01,363.50 L168.77,365.76 L169.53,368.03 L170.29,370.31 L171.05,372.60 L171.81,374.80 L172.57,376.85 L173.33,378.71 L174.09,380.36 L174.85,381.90 L175.61,383.40 L176.37,384.88 L177.13,386.32 L177.89,387.64 L178.65,388.76 L179.41,389.63 L180.17,390.21 L180.93,390.48 L181.69,390.43 L182.45,390.08 L183.21,389.45 L183.97,388.56 L184.74,387.46 L185.50,386.17 L186.26,384.73 L187.02,383.15 L187.78,381.47 L188.54,379.68 L189.30,377.78 L190.06,375.79 L190.82,373.71 L191.58,371.54 L192.34,369.29 L193.10,366.96 L193.86,364.57 L194.62,362.11 L195.38,359.61 L196.14,357.06 L196.90,354.47 L197.66,351.85 L198.42,349.20 L199.18,346.53 L199.94,343.83 L200.70,341.12 L201.46,338.40 L202.22,335.68 L202.98,332.95 L203.74,330.23 L204.50,327.51 L205.26,324.81 L206.02,322.12 L206.78,319.45 L207.54,316.81 L208.30,314.19 L209.06,311.61 L209.82,309.07 L210.58,306.57 L211.34,304.11 L212.10,301.70 L212.86,299.34 L213.62,297.04 L214.38,294.79 L215.14,292.60 L215.90,290.46 L216.66,288.38 L217.42,286.36 L218.18,284.39 L218.94,282.47 L219.70,280.61 L220.46,278.80 L221.22,277.05 L221.98,275.34 L222.75,273.68 L223.51,272.06 L224.27,270.50 L225.03,268.98 L225.79,267.50 L226.55,266.06 L227.31,264.67 L228.07,263.31 L228.83,261.99 L229.59,260.71 L230.35,259.47 L231.11,258.26 L231.87,257.08 L232.63,255.94 L233.39,254.83 L234.15,253.74 L234.91,252.69 L235.67,251.67 L236.43,250.67 L237.19,249.70 L237.95,248.75 L238.71,247.83 L239.47,246.93 L240.23,246.06 L240.99,245.20 L241.75,244.37 L242.51,243.56 L243.27,242.77 L244.03,242.00 L244.79,241.24 L245.55,240.51 L246.31,239.79 L247.07,239.09 L247.83,238.40 L248.59,237.73 L249.35,237.07 L250.11,236.43 L250.87,235.80 L251.63,235.19 L252.39,234.59 L253.15,234.00 L253.91,233.42 L254.67,232.86 L255.43,232.31 L256.19,231.77 L256.95,231.24 L257.71,230.72 L258.47,230.21 L259.23,229.71 L259.99,229.23 L260.76,228.75 L261.52,228.28 L262.28,227.82 L263.04,227.36 L263.80,226.92 L264.56,226.49 L265.32,226.06 L266.08,225.64 L266.84,225.23 L267.60,224.83 L268.36,224.43 L269.12,224.05 L269.88,223.67 L270.64,223.29 L271.40,222.93 L272.16,222.57 L272.92,222.22 L273.68,221.87 L274.44,221.53 L275.20,221.20 L275.96,220.87 L276.72,220.55 L277.48,220.24 L278.24,219.93 L279.00,219.63" fill="none" stroke="#0b49a8" stroke-width="1.5" clip-path="url(#cc)"/>
<path d="M51.70,208.98 L52.84,209.02 L53.98,209.05 L55.13,209.09 L56.27,209.13 L57.41,209.17 L58.55,209.20 L59.70,209.24 L60.84,209.28 L61.98,209.31 L63.12,209.35 L64.26,209.39 L65.41,209.43 L66.55,209.46 L67.69,209.50 L68.83,209.54 L69.98,209.58 L71.12,209.61 L72.26,209.65 L73.40,209.69 L74.54,209.73 L75.69,209.77 L76.83,209.80 L77.97,209.84 L79.11,209.88 L80.26,209.92 L81.40,209.95 L82.54,209.99 L83.68,210.03 L84.82,210.07 L85.97,210.11 L87.11,210.14 L88.25,210.18 L89.39,210.22 L90.54,210.26 L91.68,210.30 L92.82,210.33 L93.96,210.37 L95.10,210.41 L96.25,210.45 L97.39,210.49 L98.53,210.53 L99.67,210.56 L100.82,210.60 L101.96,210.64 L103.10,210.68 L104.24,210.72 L105.38,210.76 L106.53,210.79 L107.67,210.83 L108.81,210.87 L109.95,210.91 L111.09,210.95 L112.24,210.99 L113.38,211.03 L114.52,211.07 L115.66,211.10 L116.81,211.14 L117.95,211.18 L119.09,211.22 L120.23,211.26 L121.37,211.30 L122.52,211.34 L123.66,211.38 L124.80,211.41 L125.94,211.45 L127.09,211.49 L128.23,211.53 L129.37,211.57 L130.51,211.61 L131.65,211.65 L132.80,211.69 L133.94,211.73 L135.08,211.77 L136.22,211.81 L137.37,211.85 L138.51,211.89 L139.65,211.92 L140.79,211.96 L141.93,212.00 L143.08,212.04 L144.22,212.08 L145.36,212.12 L146.50,212.16 L147.65,212.20 L148.79,212.24 L149.93,212.28 L151.07,212.32 L152.21,212.36 L153.36,212.40 L154.50,212.44 L155.64,212.48 L156.78,212.52 L157.93,212.56 L159.07,212.60 L160.21,212.64 L161.35,212.68 L162.49,212.72 L163.64,212.76 L164.78,212.80 L165.92,212.83 L167.06,212.87 L168.21,212.91 L169.35,212.95 L170.49,212.98 L171.63,213.02 L172.77,213.06 L173.92,213.10 L175.06,213.15 L176.20,213.19 L177.34,213.23 L178.49,213.28 L179.63,213.33 L180.77,213.38 L181.91,213.43 L183.05,213.49 L184.20,213.54 L185.34,213.60 L186.48,213.66 L187.62,213.73 L188.77,213.79 L189.91,213.86 L191.05,213.93 L192.19,214.00 L193.33,214.07 L194.48,214.15 L195.62,214.22 L196.76,214.30 L197.90,214.37 L199.05,214.45 L200.19,214.53 L201.33,214.61 L202.47,214.69 L203.61,214.77 L204.76,214.86 L205.90,214.94 L207.04,215.02 L208.18,215.10 L209.33,215.19 L210.47,215.27 L211.61,215.36 L212.75,215.44 L213.89,215.52 L215.04,215.61 L216.18,215.69 L217.32,215.77 L218.46,215.85 L219.61,215.93 L220.75,216.01 L221.89,216.09 L223.03,216.17 L224.17,216.25 L225.32,216.33 L226.46,216.40 L227.60,216.48 L228.74,216.55 L229.88,216.62 L231.03,216.69 L232.17,216.76 L233.31,216.83 L234.45,216.90 L235.60,216.96 L236.74,217.03 L237.88,217.10 L239.02,217.17 L240.16,217.24 L241.31,217.30 L242.45,217.37 L243.59,217.44 L244.73,217.51 L245.88,217.57 L247.02,217.64 L248.16,217.70 L249.30,217.77 L250.44,217.84 L251.59,217.90 L252.73,217.97 L253.87,218.03 L255.01,218.10 L256.16,218.16 L257.30,218.23 L258.44,218.29 L259.58,218.35 L260.72,218.42 L261.87,218.48 L263.01,218.54 L264.15,218.61 L265.29,218.67 L266.44,218.73 L267.58,218.79 L268.72,218.85 L269.86,218.92 L271.00,218.98 L272.15,219.04 L273.29,219.10 L274.43,219.16 L275.57,219.22 L276.72,219.28 L277.86,219.34 L279.00,219.40" fill="none" stroke="#ee1c25" stroke-width="1.5"/>
<rect x="51.7" y="207.7" width="227.3" height="182.8" fill="none" stroke="#231815" stroke-width="1.3"/>
<line x1="51.7" y1="390.5" x2="55.1" y2="390.5" stroke="#231815" stroke-width="1.1" />
<text x="46.7" y="394.0" font-family="'Liberation Serif',serif" font-size="10.5" font-weight="bold" text-anchor="end" fill="#231815" >0.0</text>
<line x1="51.7" y1="372.2" x2="53.6" y2="372.2" stroke="#231815" stroke-width="1.1" />
<line x1="51.7" y1="353.9" x2="55.1" y2="353.9" stroke="#231815" stroke-width="1.1" />
<text x="46.7" y="357.4" font-family="'Liberation Serif',serif" font-size="10.5" font-weight="bold" text-anchor="end" fill="#231815" >0.2</text>
<line x1="51.7" y1="335.7" x2="53.6" y2="335.7" stroke="#231815" stroke-width="1.1" />
<line x1="51.7" y1="317.4" x2="55.1" y2="317.4" stroke="#231815" stroke-width="1.1" />
<text x="46.7" y="320.9" font-family="'Liberation Serif',serif" font-size="10.5" font-weight="bold" text-anchor="end" fill="#231815" >0.4</text>
<line x1="51.7" y1="299.1" x2="53.6" y2="299.1" stroke="#231815" stroke-width="1.1" />
<line x1="51.7" y1="280.8" x2="55.1" y2="280.8" stroke="#231815" stroke-width="1.1" />
<text x="46.7" y="284.3" font-family="'Liberation Serif',serif" font-size="10.5" font-weight="bold" text-anchor="end" fill="#231815" >0.6</text>
<line x1="51.7" y1="262.5" x2="53.6" y2="262.5" stroke="#231815" stroke-width="1.1" />
<line x1="51.7" y1="244.3" x2="55.1" y2="244.3" stroke="#231815" stroke-width="1.1" />
<text x="46.7" y="247.8" font-family="'Liberation Serif',serif" font-size="10.5" font-weight="bold" text-anchor="end" fill="#231815" >0.8</text>
<line x1="51.7" y1="226.0" x2="53.6" y2="226.0" stroke="#231815" stroke-width="1.1" />
<line x1="51.7" y1="207.7" x2="55.1" y2="207.7" stroke="#231815" stroke-width="1.1" />
<text x="46.7" y="211.2" font-family="'Liberation Serif',serif" font-size="10.5" font-weight="bold" text-anchor="end" fill="#231815" >1.0</text>
<line x1="82.0" y1="390.5" x2="82.0" y2="387.1" stroke="#231815" stroke-width="1.1" />
<text x="82.0" y="403.3" font-family="'Liberation Serif',serif" font-size="10.5" font-weight="bold" text-anchor="middle" fill="#231815" >1.0</text>
<line x1="119.9" y1="390.5" x2="119.9" y2="388.6" stroke="#231815" stroke-width="1.1" />
<line x1="157.8" y1="390.5" x2="157.8" y2="387.1" stroke="#231815" stroke-width="1.1" />
<text x="157.8" y="403.3" font-family="'Liberation Serif',serif" font-size="10.5" font-weight="bold" text-anchor="middle" fill="#231815" >1.5</text>
<line x1="195.7" y1="390.5" x2="195.7" y2="388.6" stroke="#231815" stroke-width="1.1" />
<line x1="233.5" y1="390.5" x2="233.5" y2="387.1" stroke="#231815" stroke-width="1.1" />
<text x="233.5" y="403.3" font-family="'Liberation Serif',serif" font-size="10.5" font-weight="bold" text-anchor="middle" fill="#231815" >2.0</text>
<line x1="271.4" y1="390.5" x2="271.4" y2="388.6" stroke="#231815" stroke-width="1.1" />
<line x1="123.0" y1="345.0" x2="142.1" y2="320.6" stroke="#0b62c4" stroke-width="1.3" />
<polygon points="146.0,315.6 143.4,323.7 138.7,320.1" fill="#0b62c4" />
<line x1="243.5" y1="303.0" x2="230.7" y2="228.3" stroke="#ee1c25" stroke-width="1.2" />
<polygon points="229.6,222.0 234.4,229.3 227.5,230.5" fill="#ee1c25" />
<line x1="57.0" y1="271.3" x2="71.3" y2="271.3" stroke="#ee1c25" stroke-width="1.5" />
<line x1="57.0" y1="290.4" x2="71.3" y2="290.4" stroke="#0b49a8" stroke-width="1.5" />
<text x="0.0" y="0.0" font-family="'Liberation Mono',monospace" font-size="10" font-weight="bold" text-anchor="start" fill="#231815" transform="translate(75.1 274.2) scale(0.745 1)">Dark Mode</text>
<text x="0.0" y="0.0" font-family="'Liberation Mono',monospace" font-size="10" font-weight="bold" text-anchor="start" fill="#231815" transform="translate(76.1 283.8) scale(0.745 1)">Resonator</text>
<text x="0.0" y="0.0" font-family="'Liberation Mono',monospace" font-size="10" font-weight="bold" text-anchor="start" fill="#231815" transform="translate(75.1 293.2) scale(0.745 1)">Bright Mode</text>
<text x="0.0" y="0.0" font-family="'Liberation Mono',monospace" font-size="10" font-weight="bold" text-anchor="start" fill="#231815" transform="translate(76.1 302.8) scale(0.745 1)">Resonator</text>
<text x="0.0" y="0.0" font-family="'Liberation Serif',serif" font-size="12.7" font-weight="normal" text-anchor="middle" fill="#231815" transform="translate(23,294.5) rotate(-90)">Transmission</text>
<text x="163.7" y="414.6" font-family="'Liberation Serif',serif" font-size="12.8" font-weight="normal" text-anchor="middle" fill="#231815" >Frequency (THz)</text>
<text x="10.8" y="197.0" font-family="'Liberation Serif',serif" font-size="13" font-weight="bold" text-anchor="start" fill="#231815" >(c)</text>
<rect x="324.8" y="310.2" width="57.2" height="63.2" fill="#03a8c4"/>
<path d="M338.8,316.4 H360 V337.3 H354.7 V321 H344.4 V337.3 H338.8 Z" fill="#fff"/>
<rect x="366.5" y="316.4" width="5.3" height="48.9" fill="#fff"/>
<path d="M318.30,223.10 L318.87,223.38 L319.44,223.66 L320.01,223.93 L320.58,224.20 L321.14,224.47 L321.71,224.74 L322.28,225.01 L322.85,225.28 L323.42,225.54 L323.99,225.81 L324.56,226.08 L325.13,226.34 L325.70,226.61 L326.26,226.88 L326.83,227.15 L327.40,227.42 L327.97,227.69 L328.54,227.96 L329.11,228.24 L329.68,228.52 L330.25,228.80 L330.82,229.09 L331.39,229.37 L331.95,229.67 L332.52,229.96 L333.09,230.26 L333.66,230.57 L334.23,230.87 L334.80,231.19 L335.37,231.51 L335.94,231.83 L336.51,232.16 L337.07,232.50 L337.64,232.84 L338.21,233.20 L338.78,233.55 L339.35,233.92 L339.92,234.29 L340.49,234.67 L341.06,235.06 L341.63,235.45 L342.19,235.86 L342.76,236.27 L343.33,236.69 L343.90,237.13 L344.47,237.57 L345.04,238.02 L345.61,238.48 L346.18,238.95 L346.75,239.44 L347.32,239.93 L347.88,240.44 L348.45,240.96 L349.02,241.49 L349.59,242.03 L350.16,242.59 L350.73,243.15 L351.30,243.73 L351.87,244.33 L352.44,244.93 L353.00,245.56 L353.57,246.19 L354.14,246.84 L354.71,247.51 L355.28,248.19 L355.85,248.88 L356.42,249.59 L356.99,250.32 L357.56,251.06 L358.12,251.82 L358.69,252.60 L359.26,253.39 L359.83,254.20 L360.40,255.03 L360.97,255.87 L361.54,256.74 L362.11,257.62 L362.68,258.52 L363.24,259.44 L363.81,260.38 L364.38,261.34 L364.95,262.31 L365.52,263.31 L366.09,264.33 L366.66,265.37 L367.23,266.43 L367.80,267.51 L368.37,268.61 L368.93,269.73 L369.50,270.88 L370.07,272.05 L370.64,273.24 L371.21,274.45 L371.78,275.69 L372.35,276.95 L372.92,278.23 L373.49,279.54 L374.05,280.87 L374.62,282.22 L375.19,283.60 L375.76,285.01 L376.33,286.44 L376.90,287.90 L377.47,289.38 L378.04,290.89 L378.61,292.42 L379.17,293.98 L379.74,295.57 L380.31,297.19 L380.88,298.83 L381.45,300.51 L382.02,302.21 L382.59,303.94 L383.16,305.70 L383.73,307.49 L384.29,309.31 L384.86,311.16 L385.43,313.05 L386.00,314.96 L386.57,316.91 L387.14,318.88 L387.71,320.90 L388.28,322.94 L388.85,325.02 L389.42,327.13 L389.98,329.27 L390.55,331.45 L391.12,333.65 L391.69,335.85 L392.26,338.05 L392.83,340.22 L393.40,342.35 L393.97,344.43 L394.54,346.44 L395.10,348.37 L395.67,350.20 L396.24,351.92 L396.81,353.51 L397.38,354.96 L397.95,356.26 L398.52,357.39 L399.09,358.33 L399.66,359.07 L400.22,359.59 L400.79,359.89 L401.36,359.97 L401.93,359.81 L402.50,359.43 L403.07,358.81 L403.64,357.95 L404.21,356.86 L404.78,355.52 L405.35,353.94 L405.91,352.12 L406.48,350.04 L407.05,347.72 L407.62,345.15 L408.19,342.35 L408.76,339.35 L409.33,336.18 L409.90,332.85 L410.47,329.39 L411.03,325.83 L411.60,322.18 L412.17,318.49 L412.74,314.76 L413.31,311.02 L413.88,307.30 L414.45,303.62 L415.02,300.01 L415.59,296.49 L416.15,293.09 L416.72,289.81 L417.29,286.66 L417.86,283.65 L418.43,280.76 L419.00,277.99 L419.57,275.34 L420.14,272.81 L420.71,270.41 L421.27,268.11 L421.84,265.93 L422.41,263.87 L422.98,261.91 L423.55,260.06 L424.12,258.32 L424.69,256.67 L425.26,255.13 L425.83,253.70 L426.40,252.35 L426.96,251.11 L427.53,249.95 L428.10,248.89 L428.67,247.92 L429.24,247.03 L429.81,246.23 L430.38,245.52 L430.95,244.88 L431.52,244.33 L432.08,243.85 L432.65,243.44 L433.22,243.11 L433.79,242.85 L434.36,242.66 L434.93,242.54 L435.50,242.48 L436.07,242.49 L436.64,242.55 L437.20,242.68 L437.77,242.87 L438.34,243.12 L438.91,243.44 L439.48,243.81 L440.05,244.25 L440.62,244.75 L441.19,245.32 L441.76,245.94 L442.33,246.64 L442.89,247.39 L443.46,248.21 L444.03,249.09 L444.60,250.04 L445.17,251.05 L445.74,252.13 L446.31,253.28 L446.88,254.48 L447.45,255.76 L448.01,257.10 L448.58,258.50 L449.15,259.97 L449.72,261.51 L450.29,263.12 L450.86,264.79 L451.43,266.53 L452.00,268.34 L452.57,270.21 L453.13,272.15 L453.70,274.15 L454.27,276.22 L454.84,278.34 L455.41,280.51 L455.98,282.74 L456.55,285.02 L457.12,287.35 L457.69,289.73 L458.25,292.15 L458.82,294.60 L459.39,297.10 L459.96,299.64 L460.53,302.21 L461.10,304.81 L461.67,307.43 L462.24,310.09 L462.81,312.77 L463.38,315.47 L463.94,318.19 L464.51,320.93 L465.08,323.67 L465.65,326.40 L466.22,329.11 L466.79,331.80 L467.36,334.43 L467.93,337.01 L468.50,339.52 L469.06,341.94 L469.63,344.27 L470.20,346.49 L470.77,348.59 L471.34,350.55 L471.91,352.37 L472.48,354.03 L473.05,355.52 L473.62,356.82 L474.18,357.93 L474.75,358.82 L475.32,359.50 L475.89,359.94 L476.46,360.16 L477.03,360.15 L477.60,359.90 L478.17,359.43 L478.74,358.72 L479.31,357.78 L479.87,356.61 L480.44,355.24 L481.01,353.68 L481.58,351.95 L482.15,350.07 L482.72,348.06 L483.29,345.92 L483.86,343.67 L484.43,341.33 L484.99,338.91 L485.56,336.42 L486.13,333.88 L486.70,331.29 L487.27,328.68 L487.84,326.06 L488.41,323.43 L488.98,320.81 L489.55,318.22 L490.11,315.67 L490.68,313.17 L491.25,310.71 L491.82,308.30 L492.39,305.92 L492.96,303.59 L493.53,301.28 L494.10,299.01 L494.67,296.77 L495.23,294.56 L495.80,292.37 L496.37,290.22 L496.94,288.11 L497.51,286.02 L498.08,283.97 L498.65,281.96 L499.22,279.98 L499.79,278.04 L500.36,276.14 L500.92,274.28 L501.49,272.45 L502.06,270.67 L502.63,268.94 L503.20,267.24 L503.77,265.59 L504.34,263.99 L504.91,262.43 L505.48,260.92 L506.04,259.45 L506.61,258.02 L507.18,256.64 L507.75,255.29 L508.32,253.99 L508.89,252.72 L509.46,251.50 L510.03,250.31 L510.60,249.15 L511.16,248.04 L511.73,246.95 L512.30,245.90 L512.87,244.88 L513.44,243.89 L514.01,242.93 L514.58,242.00 L515.15,241.10 L515.72,240.23 L516.28,239.38 L516.85,238.56 L517.42,237.76 L517.99,236.98 L518.56,236.23 L519.13,235.49 L519.70,234.78 L520.27,234.09 L520.84,233.41 L521.41,232.75 L521.97,232.11 L522.54,231.49 L523.11,230.88 L523.68,230.28 L524.25,229.70 L524.82,229.14 L525.39,228.59 L525.96,228.06 L526.53,227.54 L527.09,227.04 L527.66,226.55 L528.23,226.07 L528.80,225.60 L529.37,225.15 L529.94,224.71 L530.51,224.29 L531.08,223.87 L531.65,223.47 L532.21,223.08 L532.78,222.69 L533.35,222.32 L533.92,221.96 L534.49,221.61 L535.06,221.27 L535.63,220.94 L536.20,220.62 L536.77,220.31 L537.34,220.01 L537.90,219.71 L538.47,219.42 L539.04,219.14 L539.61,218.87 L540.18,218.61 L540.75,218.35 L541.32,218.10 L541.89,217.85 L542.46,217.61 L543.02,217.38 L543.59,217.15 L544.16,216.93 L544.73,216.71 L545.30,216.50" fill="none" stroke="#231815" stroke-width="1.5"/>
<rect x="318.3" y="208.3" width="227.0" height="182.7" fill="none" stroke="#231815" stroke-width="1.3"/>
<line x1="318.3" y1="391.0" x2="321.7" y2="391.0" stroke="#231815" stroke-width="1.1" />
<text x="313.3" y="394.5" font-family="'Liberation Serif',serif" font-size="10.5" font-weight="bold" text-anchor="end" fill="#231815" >0.0</text>
<line x1="318.3" y1="372.7" x2="320.2" y2="372.7" stroke="#231815" stroke-width="1.1" />
<line x1="318.3" y1="354.5" x2="321.7" y2="354.5" stroke="#231815" stroke-width="1.1" />
<text x="313.3" y="358.0" font-family="'Liberation Serif',serif" font-size="10.5" font-weight="bold" text-anchor="end" fill="#231815" >0.2</text>
<line x1="318.3" y1="336.2" x2="320.2" y2="336.2" stroke="#231815" stroke-width="1.1" />
<line x1="318.3" y1="317.9" x2="321.7" y2="317.9" stroke="#231815" stroke-width="1.1" />
<text x="313.3" y="321.4" font-family="'Liberation Serif',serif" font-size="10.5" font-weight="bold" text-anchor="end" fill="#231815" >0.4</text>
<line x1="318.3" y1="299.6" x2="320.2" y2="299.6" stroke="#231815" stroke-width="1.1" />
<line x1="318.3" y1="281.4" x2="321.7" y2="281.4" stroke="#231815" stroke-width="1.1" />
<text x="313.3" y="284.9" font-family="'Liberation Serif',serif" font-size="10.5" font-weight="bold" text-anchor="end" fill="#231815" >0.6</text>
<line x1="318.3" y1="263.1" x2="320.2" y2="263.1" stroke="#231815" stroke-width="1.1" />
<line x1="318.3" y1="244.8" x2="321.7" y2="244.8" stroke="#231815" stroke-width="1.1" />
<text x="313.3" y="248.3" font-family="'Liberation Serif',serif" font-size="10.5" font-weight="bold" text-anchor="end" fill="#231815" >0.8</text>
<line x1="318.3" y1="226.6" x2="320.2" y2="226.6" stroke="#231815" stroke-width="1.1" />
<line x1="318.3" y1="208.3" x2="321.7" y2="208.3" stroke="#231815" stroke-width="1.1" />
<text x="313.3" y="211.8" font-family="'Liberation Serif',serif" font-size="10.5" font-weight="bold" text-anchor="end" fill="#231815" >1.0</text>
<line x1="348.6" y1="391.0" x2="348.6" y2="387.6" stroke="#231815" stroke-width="1.1" />
<text x="348.6" y="403.8" font-family="'Liberation Serif',serif" font-size="10.5" font-weight="bold" text-anchor="middle" fill="#231815" >1.0</text>
<line x1="386.4" y1="391.0" x2="386.4" y2="389.1" stroke="#231815" stroke-width="1.1" />
<line x1="424.2" y1="391.0" x2="424.2" y2="387.6" stroke="#231815" stroke-width="1.1" />
<text x="424.2" y="403.8" font-family="'Liberation Serif',serif" font-size="10.5" font-weight="bold" text-anchor="middle" fill="#231815" >1.5</text>
<line x1="462.1" y1="391.0" x2="462.1" y2="389.1" stroke="#231815" stroke-width="1.1" />
<line x1="499.9" y1="391.0" x2="499.9" y2="387.6" stroke="#231815" stroke-width="1.1" />
<text x="499.9" y="403.8" font-family="'Liberation Serif',serif" font-size="10.5" font-weight="bold" text-anchor="middle" fill="#231815" >2.0</text>
<line x1="537.7" y1="391.0" x2="537.7" y2="389.1" stroke="#231815" stroke-width="1.1" />
<circle cx="436.2" cy="242.8" r="2.6" fill="#231815"/>
<text x="418.5" y="235.8" font-family="'Liberation Serif',serif" font-size="12.7" font-weight="normal" text-anchor="start" fill="#231815" >1.6THz</text>
<text x="431.8" y="413.3" font-family="'Liberation Serif',serif" font-size="12.8" font-weight="normal" text-anchor="middle" fill="#231815" >Frequency (THz)</text>
<text x="337.0" y="198.5" font-family="'Liberation Serif',serif" font-size="13" font-weight="normal" text-anchor="start" fill="#231815" >(d)</text>
</svg>
</body></html>
